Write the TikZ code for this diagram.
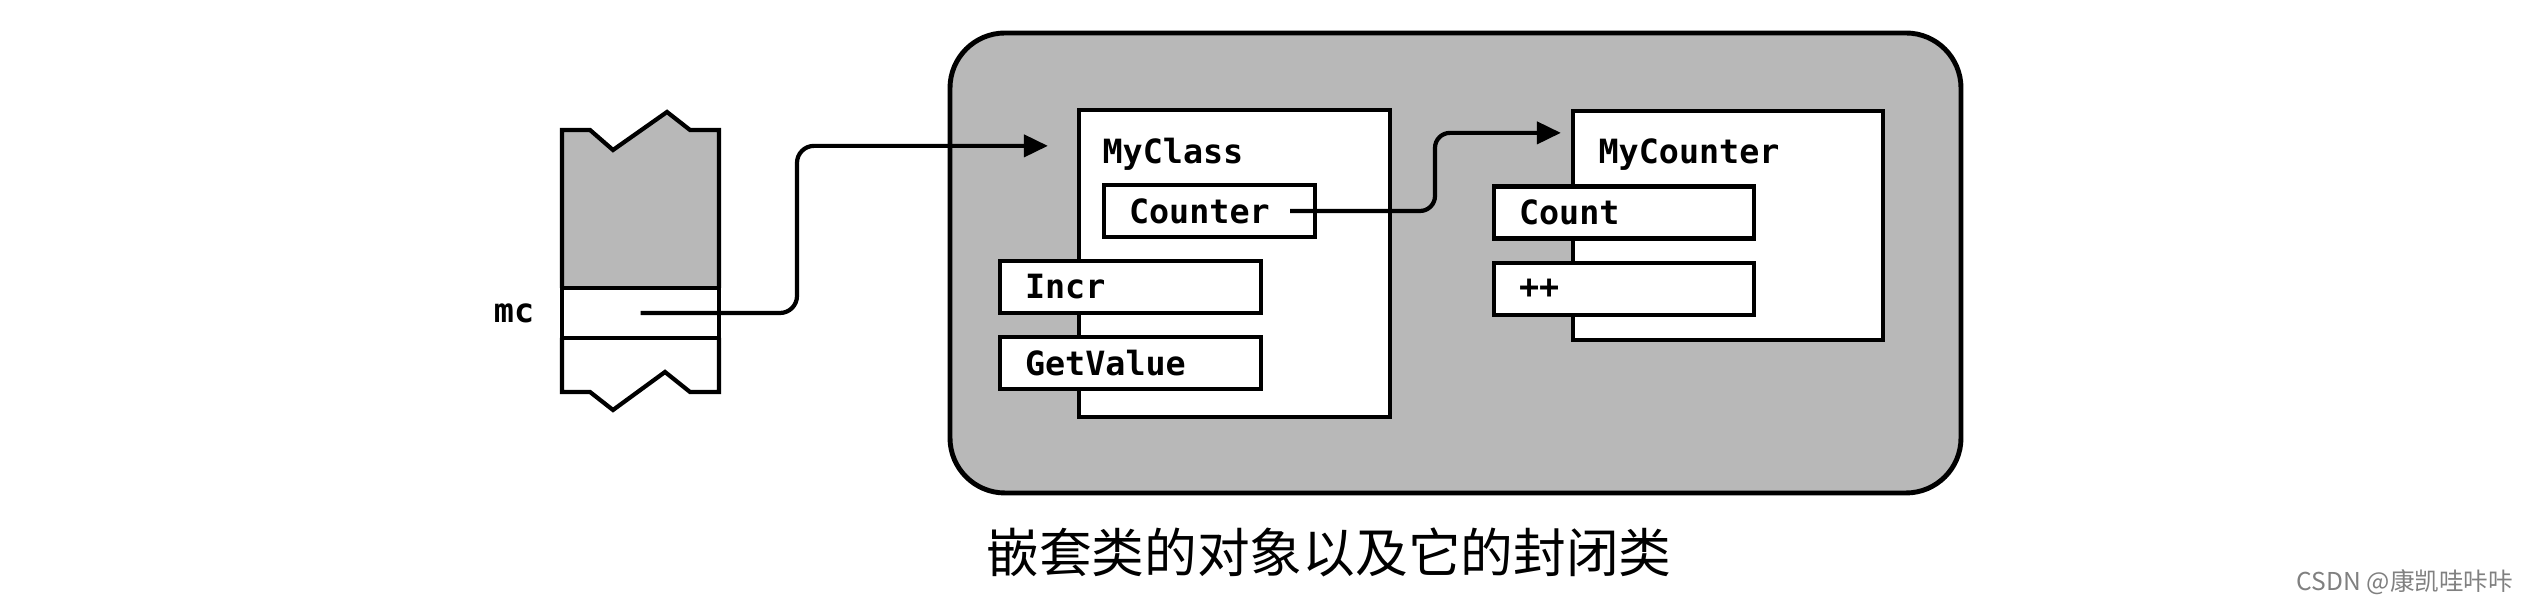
\documentclass[tikz,border=0pt]{standalone}
\usepackage{fontspec}
\setmonofont{DejaVu Sans Mono}
\newfontfamily\cjk{Noto Sans CJK SC}
\usetikzlibrary{positioning}
\usetikzlibrary{arrows.meta}
\definecolor{shade}{gray}{0.72}
\newcommand{\fieldfont}{\ttfamily\bfseries\fontsize{9.5}{11}\selectfont}
\tikzset{
    frame/.style = {rectangle, draw=black, line width=1.4pt, fill=shade, rounded corners=0.55cm},
    classbox/.style = {rectangle, draw=black, line width=1.2pt, fill=white},
    field/.style = {classbox, inner xsep=0.25cm, inner ysep=0pt, minimum height=0.52cm, text width=#1, align=left, font=\fieldfont},
    title/.style = {inner sep=0pt, font=\fieldfont},
    stack/.style = {line width=1.2pt, line join=miter},
    ptr/.style = {-{Triangle[length=0.24cm,width=0.22cm]}, line width=1.2pt, rounded corners=0.17cm}, % reference
}

\begin{document}
\begin{tikzpicture}
  \useasboundingbox (0,0) rectangle (25.36,6.04);

  % stack frame
  \filldraw[stack, fill=shade] (5.62,3.16) -- (5.62,4.74) -- (5.90,4.74) -- (6.13,4.54) -- (6.67,4.92) -- (6.90,4.74) -- (7.19,4.74) -- (7.19,3.16);
  \node[classbox, minimum width=1.57cm, minimum height=0.50cm] (cell) at (6.405,2.91) {};
  \draw[stack] (5.62,2.66) -- (5.62,2.12) -- (5.90,2.12) -- (6.13,1.94) -- (6.65,2.32) -- (6.90,2.12) -- (7.19,2.12) -- (7.19,2.66);
  \node[title, left=0.25cm of cell] (mc) {mc};

  % enclosing object
  \node[frame, minimum width=10.11cm, minimum height=4.60cm] (encl) at (14.555,3.41) {};

  \node[classbox, minimum width=3.11cm, minimum height=3.07cm] (myclass) at (12.345,3.405) {};
  \node[title, below right=0.30cm and 0.25cm of myclass.north west] (myclasst) {MyClass};
  \node[field=1.61cm] (counter) at (12.095,3.93) {Counter};
  \node[field=2.11cm] (incr) at (11.305,3.17) {Incr};
  \node[field=2.11cm] (getvalue) at (11.305,2.41) {GetValue};

  \node[classbox, minimum width=3.10cm, minimum height=2.29cm] (mycounter) at (17.28,3.785) {};
  \node[title, below right=0.29cm and 0.27cm of mycounter.north west] (mycountert) {MyCounter};
  \node[field=2.10cm] (count) at (16.24,3.915) {Count};
  \node[field=2.10cm] (plusplus) at (16.24,3.15) {++};

  % references
  \coordinate (bend) at (7.97,3.70);
  \coordinate (kink) at (14.35,4.30);
  \draw[ptr] (cell.center) -| (bend) |- ([xshift=-0.29cm,yshift=-0.38cm]myclass.north west);
  \draw[ptr, rounded corners=0.15cm] ([xshift=-0.27cm]counter.east) -| (kink) |- ([xshift=-0.10cm,yshift=-0.24cm]mycounter.north west);

  \node[font=\cjk\fontsize{15}{15}\selectfont] (caption) at (13.29,0.52) {嵌套类的对象以及它的封闭类};
  \node[font=\cjk\fontsize{7}{7}\selectfont, text=gray] (mark) at (24.05,0.22) {CSDN @康凯哇咔咔};
\end{tikzpicture}
\end{document}
